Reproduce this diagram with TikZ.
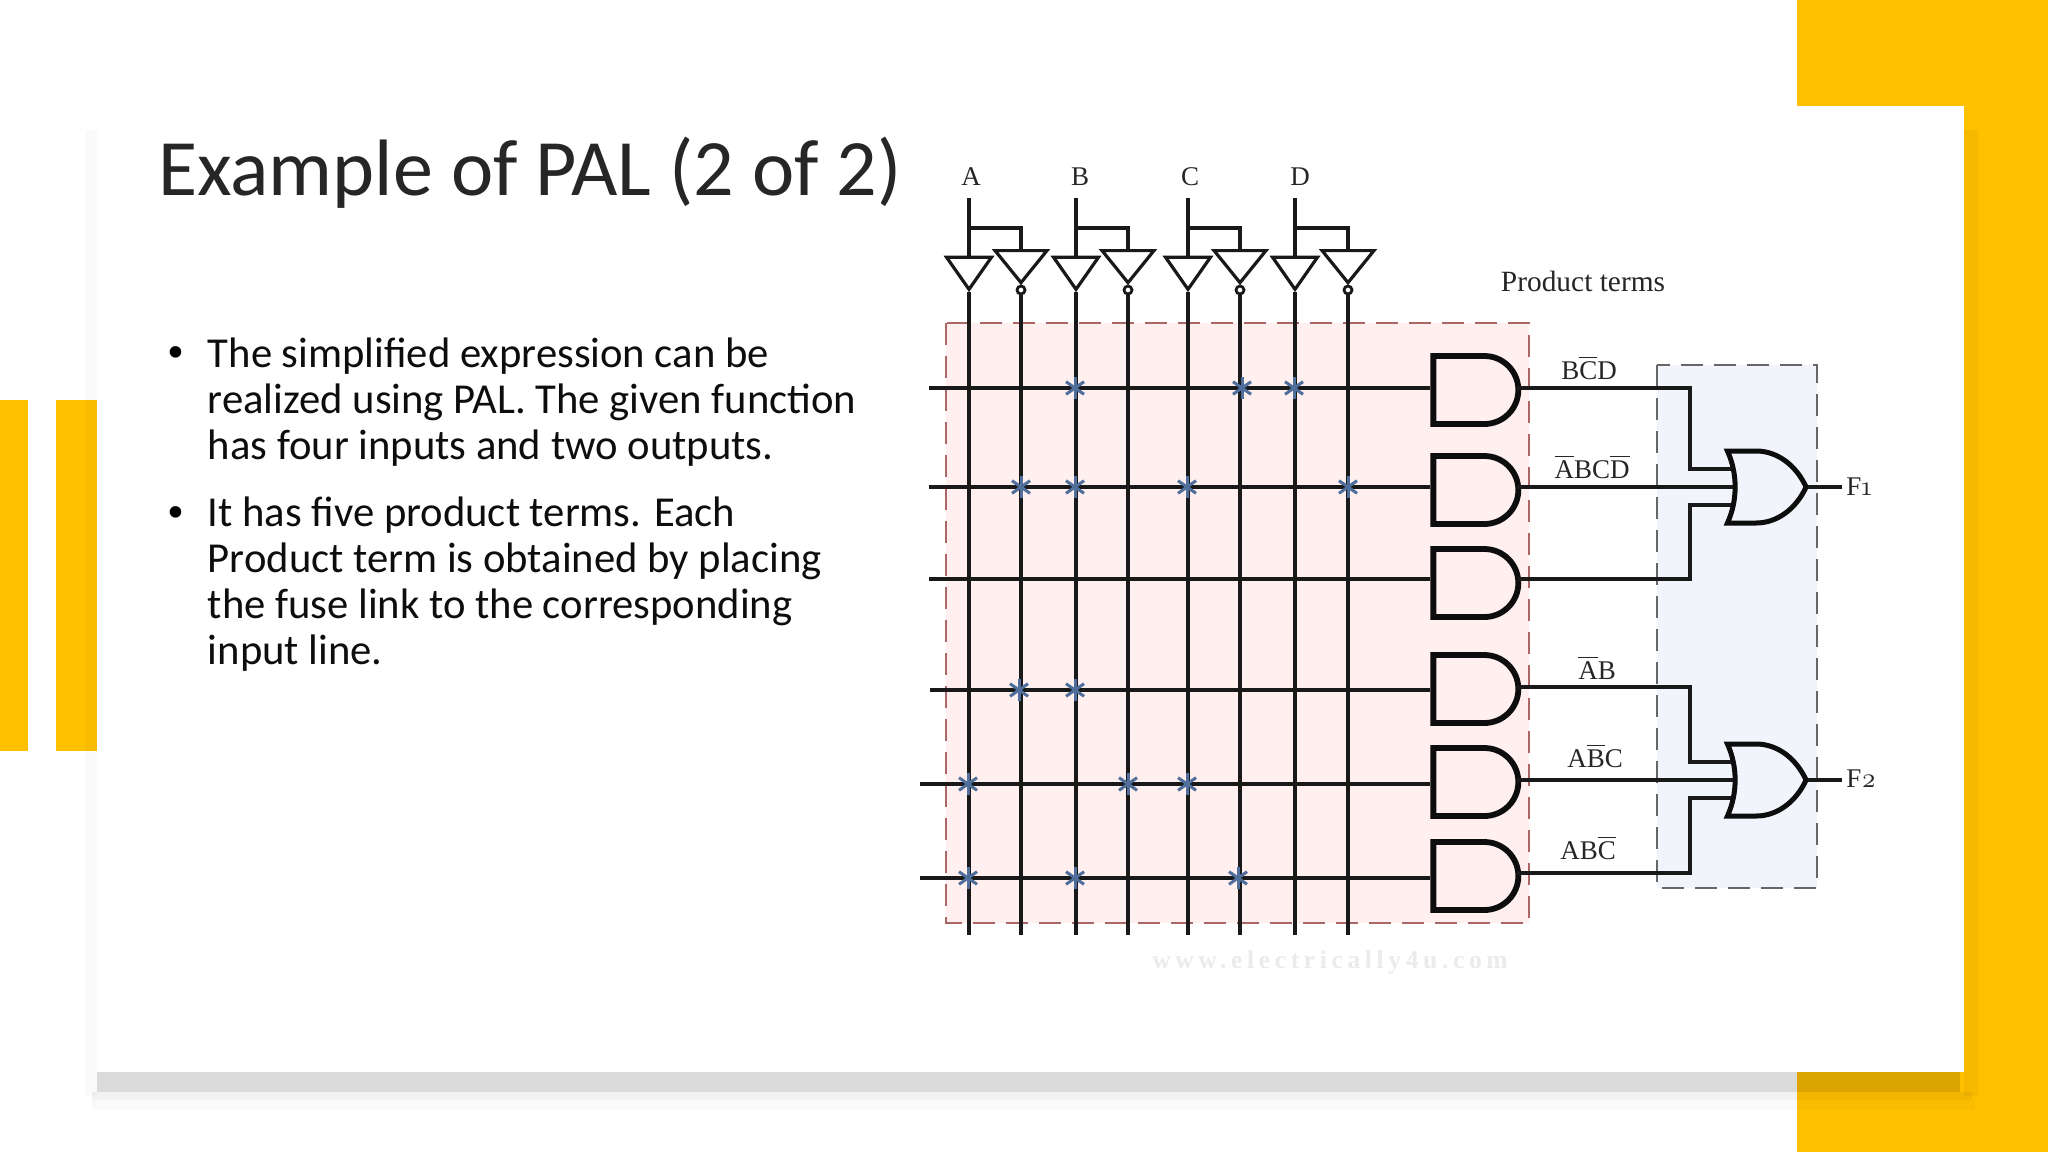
\documentclass[tikz,border=0pt]{standalone}
\usepackage{fontspec}
\usepackage{amsmath}
\usetikzlibrary{shapes.geometric,shapes.gates.logic.US,calc}
\setmainfont{Carlito}
\newfontfamily\figfont{Liberation Serif}
\newfontfamily\dotfont{Liberation Sans}
\newfontfamily\oldnum[Numbers=OldStyle]{Latin Modern Roman}
\newfontfamily\markfont[LetterSpace=18]{Liberation Serif Bold}
\definecolor{slideyellow}{HTML}{FFC000}
\definecolor{fusepink}{HTML}{FFEFEF}
\definecolor{orblue}{HTML}{F1F5FB}
\definecolor{fuseblue}{HTML}{4F6E9C}
\newcommand{\barred}[1]{$\overline{\mbox{#1}}$}
\tikzset{
  wire/.style={line width=1.6pt,black!90},
  andnode/.style={and gate US,draw=black!95,line width=2.9pt,inner sep=0pt,minimum height=34pt,fill=fusepink},
  ornode/.style={or gate US,draw=black!95,line width=2.5pt,logic gate inputs=nnn,logic gate input sep=0.09cm,inner sep=0pt,minimum height=26pt,xscale=0.8,fill=orblue},
  bufnode/.style={isosceles triangle,shape border rotate=-90,isosceles triangle apex angle=70,draw=black!90,line width=1.6pt,inner sep=0pt,minimum height=16pt},
  bubble/.style={circle,draw=black!90,line width=1.4pt,inner sep=0pt,minimum size=4pt},
  figtext/.style={font=\figfont\fontsize{13.5}{15}\selectfont,text=black!85,anchor=base,inner sep=0pt},
  bodytext/.style={font=\fontsize{21.33}{23}\selectfont,text=black!95,anchor=north west,inner sep=0pt,align=left},
}
\begin{document}
\begin{tikzpicture}[x=0.5pt,y=-0.5pt]
  \useasboundingbox (0,0) rectangle (2048,1152);
  % slide background
  \fill[white] (0,0) rectangle (2048,1152);
  \fill[slideyellow] (1797,0) rectangle (2048,1152);
  \fill[slideyellow] (0,400) rectangle (28,751);
  \fill[slideyellow] (56,400) rectangle (97,751);
  \fill[black,opacity=0.02] (85,130) rectangle (97,1096);
  \fill[black,opacity=0.03] (1964,130) rectangle (1978,1096);
  \fill[black,opacity=0.14] (97,1072) rectangle (1960,1092);
  \fill[black,opacity=0.05] (92,1092) rectangle (1972,1100);
  \fill[black,opacity=0.02] (92,1100) rectangle (1975,1110);
  \fill[white] (97,106) rectangle (1964,1072);
  % text
  \node[font=\fontsize{40}{44}\selectfont,text=black!85,anchor=base west,inner sep=0pt] (title) at (158,195) {Example of PAL (2 of 2)};
  \node[font=\dotfont\fontsize{21.33}{23}\selectfont,text=black,anchor=base,inner sep=0pt] (bulleta) at (176,366) {•};
  \node[bodytext] (parta) at (207.5,337.5) {The simplified expression can be\\realized using PAL. The given function\\has four inputs and two outputs.};
  \node[font=\dotfont\fontsize{21.33}{23}\selectfont,text=black,anchor=base,inner sep=0pt] (bulletb) at (176,526) {•};
  \node[bodytext] (partb) at (207.5,496.5) {It has five product terms. Each\\Product term is obtained by placing\\the fuse link to the corresponding\\input line.};
  % panels
  \draw[fill=fusepink,draw=red!45!black!60,line width=1.2pt,dash pattern=on 11pt off 5.5pt] (946,323) rectangle (1529,923);
  \draw[fill=orblue,draw=black!60,line width=1.2pt,dash pattern=on 11pt off 5.5pt] (1657,365) rectangle (1817,888);
  % input buffers
  \foreach \name/\xl/\xb/\xi/\txt in {a/971/969/1021/A,b/1080/1076/1128/B,c/1190/1188/1240/C,d/1300/1295/1348/D}{
    \node[figtext] (lab\name) at (\xl,185) {\txt};
    \coordinate (pin\name) at (\xb,198);
    \coordinate (branch\name) at (\xb,228);
    \node[bufnode] (buf\name) at (\xb,269) {};
    \node[bufnode,isosceles triangle apex angle=78] (inv\name) at (\xi,263) {};
    \node[bubble] (dot\name) at (\xi,290) {};
    \coordinate (endb\name) at (\xb,935);
    \coordinate (endi\name) at (\xi,935);
    \draw[wire] (pin\name) -- (buf\name.north);
    \draw[wire] (branch\name) -| (inv\name.north);
    \draw[wire] (buf\name.south) -- (endb\name);
    \draw[wire] (dot\name.south) -- (endi\name);
  }
  % and gates and rows
  \foreach \name/\gy/\rx/\iny/\outy in {a/390/929/388/388,b/490/929/487/487,c/583/929/579/579,d/689/930/690/687,e/782/920/784/780,f/876/920/878/873}{
    \node[andnode] (and\name) at (1473,\gy) {};
    \coordinate (row\name) at (\rx,\iny);
    \coordinate (term\name) at (1517,\outy);
    \draw[wire] (row\name) -- (row\name -| and\name.west);
  }
  % fuses
  \foreach \xf/\yf in {1075/388,1242/388,1294/388,1021/487,1075/487,1187/487,1348/487,1019/690,1075/690,968/784,1128/784,1187/784,968/878,1075/878,1238/878}{
    \foreach \ang in {35,90,145}
      \draw[fuseblue,line width=1.5pt] (\xf,\yf) ++(\ang:11) -- ++(\ang+180:22);
  }
  % or gates
  \node[ornode] (orp) at (1761,487) {};
  \node[ornode] (orq) at (1761,780) {};
  \coordinate (busp) at (1690,430);
  \coordinate (busq) at (1690,720);
  \coordinate (outp) at (1842,487);
  \coordinate (outq) at (1842,780);
  \draw[wire] (terma) -| (busp |- orp.input 1) -- (orp.input 1);
  \draw[wire] (termb) -- (termb -| orp.input 2);
  \draw[wire] (termc) -| (busp |- orp.input 3) -- (orp.input 3);
  \draw[wire] (termd) -| (busq |- orq.input 1) -- (orq.input 1);
  \draw[wire] (terme) -- (terme -| orq.input 2);
  \draw[wire] (termf) -| (busq |- orq.input 3) -- (orq.input 3);
  \draw[wire] (orp.output) -- (outp);
  \draw[wire] (orq.output) -- (outq);
  % labels
  \node[figtext,font=\figfont\fontsize{14.7}{16}\selectfont] (prodlab) at (1583,291) {Product terms};
  \node[figtext] (labbcd) at (1589,379) {B\barred{C}D};
  \node[figtext] (lababcd) at (1592,478) {\barred{A}BC\barred{D}};
  \node[figtext] (labab) at (1597,679) {\barred{A}B};
  \node[figtext] (labnbc) at (1595,767) {A\barred{B}C};
  \node[figtext] (labnc) at (1588,859) {AB\barred{C}};
  \node[figtext,anchor=base west] (labp) at (1846,495) {F{\oldnum 1}};
  \node[figtext,anchor=base west] (labq) at (1846,787) {F{\oldnum 2}};
  \node[font=\markfont\fontsize{12.8}{14}\selectfont,text=black!8,inner sep=0pt] (mark) at (1330,962) {www.electrically4u.com};
\end{tikzpicture}
\end{document}
